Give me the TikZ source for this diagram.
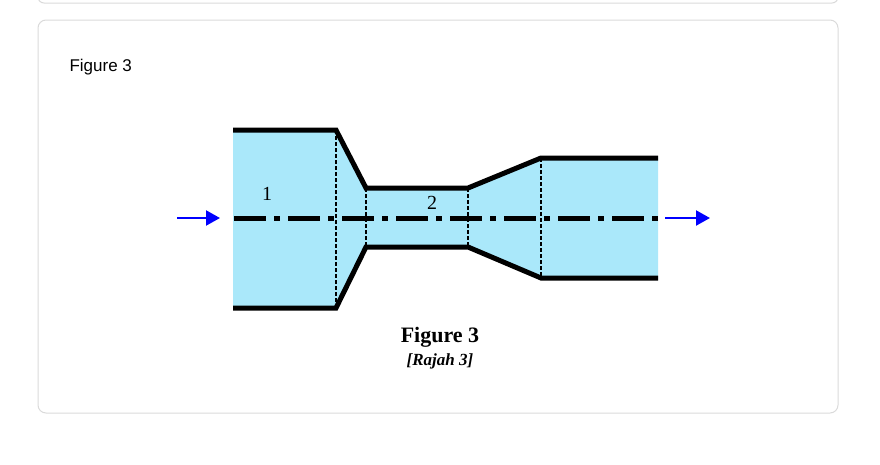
\documentclass[tikz,border=0pt]{standalone}
\usepackage{fontspec}
\setsansfont{Liberation Sans}
\setmainfont{Liberation Serif}
\usetikzlibrary{arrows.meta}
\definecolor{water}{RGB}{170,232,250}
\definecolor{card}{RGB}{218,218,218}
\tikzset{wall/.style={line width=5pt},
 sect/.style={dash pattern=on 4pt off 2pt,line width=1.2pt},
 flow/.style={blue,line width=2.2pt,-{Triangle[length=14pt,width=15pt]}}}
\begin{document}
\begin{tikzpicture}[x=1pt,y=-1pt]
\useasboundingbox (0,0) rectangle (880,464);
\draw[card,line width=1pt,rounded corners=6pt] (38,-10) -- (38,3) -- (838,3) -- (838,-10);
\draw[card,line width=1pt,rounded corners=8pt] (38,20) rectangle (838,413);
\node[font=\sffamily\fontsize{17}{19}\selectfont,anchor=west] (title) at (66,67) {Figure 3};
\fill[water] (233,130) -- (336,130) -- (366,188) -- (468,188) -- (541,158) -- (658,158) -- (658,280) -- (541,278) -- (468,247) -- (366,247) -- (336,308) -- (233,308) -- cycle;
\draw[wall] (233,130) -- (336,130) -- (366,188) -- (468,188) -- (541,158) -- (658,158);
\draw[wall] (233,308) -- (336,308) -- (366,247) -- (468,247) -- (541,278) -- (658,278);
\draw[sect] (336,130) -- (336,308);
\draw[sect] (366,188) -- (366,247);
\draw[sect] (468,188) -- (468,247);
\draw[sect] (541,158) -- (541,278);
\draw[line width=5pt,dash pattern=on 32pt off 8pt on 6pt off 8pt] (234,218) -- (658,218);
\coordinate (a1) at (177,218); \coordinate (a2) at (220,218);
\coordinate (b1) at (665,218); \coordinate (b2) at (710,218);
\draw[flow] (a1) -- (a2);
\draw[flow] (b1) -- (b2);
\node[font=\fontsize{20}{22}\selectfont] (n1) at (267,194) {1};
\node[font=\fontsize{20}{22}\selectfont] (n2) at (432,203) {2};
\node[font=\bfseries\fontsize{22}{24}\selectfont] (cap) at (440,337) {Figure 3};
\node[font=\itshape\bfseries\fontsize{17}{19}\selectfont] (cap2) at (440,361) {[Rajah 3]};
\end{tikzpicture}
\end{document}
